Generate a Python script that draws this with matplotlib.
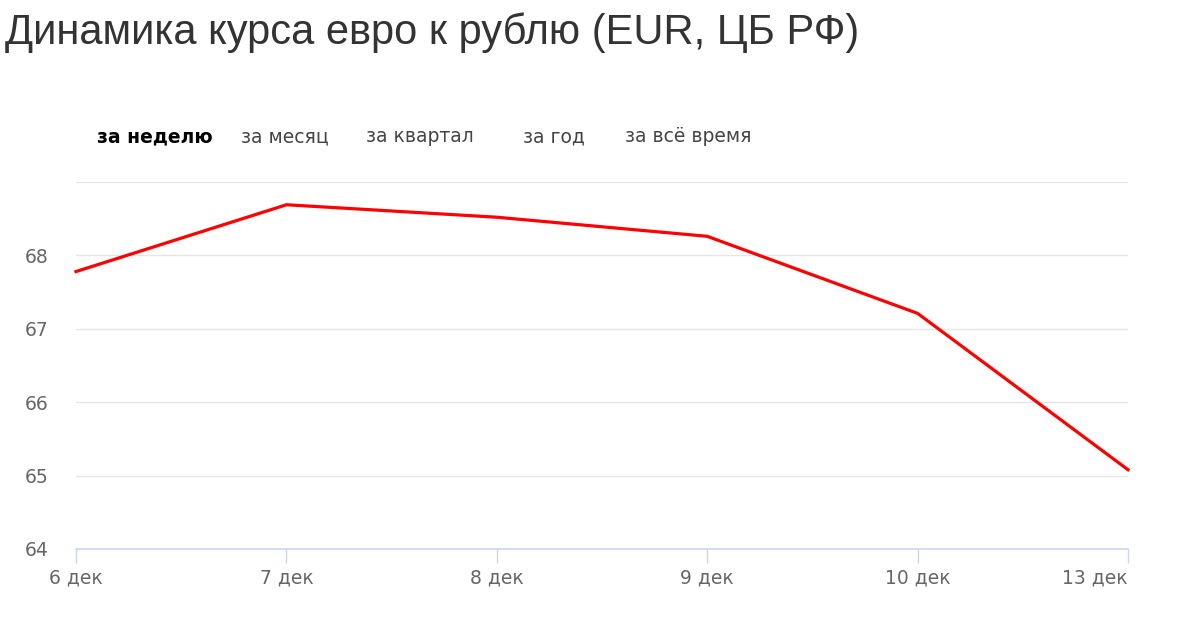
import matplotlib
matplotlib.use("Agg")
import matplotlib.pyplot as plt

# данные: курс евро ЦБ РФ за неделю
dates = ["6 дек", "7 дек", "8 дек", "9 дек", "10 дек", "13 дек"]
rates = [67.78, 68.69, 68.52, 68.26, 67.21, 65.08]
y_ticks = [64, 65, 66, 67, 68, 69]
y_labels = ["64", "65", "66", "67", "68", ""]
tabs = ["за неделю", "за месяц", "за квартал", "за год", "за всё время"]
tab_x = [97, 241, 366, 523, 625]

fig = plt.figure(figsize=(12, 6.28), dpi=100)
ax = fig.add_axes([76 / 1200, 79 / 628, (1128 - 76) / 1200, (549 - 182) / 628])

x = list(range(len(dates)))
ax.plot(x, rates, color="#ff0000", lw=2.3, solid_joinstyle="miter", clip_on=False, zorder=3)

ax.set_xlim(0, len(dates) - 1)
ax.set_ylim(64, 69)
ax.set_yticks(y_ticks)
ax.set_yticklabels(y_labels, fontsize=13.5, color="#666666", family="DejaVu Sans")
ax.set_xticks(x)
ax.set_xticklabels(dates, fontsize=13.5, color="#666666", family="DejaVu Sans")
xl = ax.get_xticklabels()
xl[-1].set_ha("right")
ax.tick_params(axis="y", length=0, pad=20)
ax.tick_params(axis="x", length=10, width=1, color="#ccd6eb", pad=4)

ax.grid(axis="y", color="#e6e6e6", lw=1)
ax.set_axisbelow(True)
for s in ["top", "right", "left"]:
    ax.spines[s].set_visible(False)
ax.spines["bottom"].set_color("#ccd6eb")
ax.spines["bottom"].set_linewidth(1.2)

fig.text(5 / 1200, 1 - 44 / 628, "Динамика курса евро к рублю (EUR, ЦБ РФ)",
         fontsize=30, color="#333333", family="Liberation Sans", va="baseline")

for i, (t, px) in enumerate(zip(tabs, tab_x)):
    fig.text(px / 1200, 1 - 137 / 628, t, fontsize=13.5, va="center",
             family="DejaVu Sans",
             color="#000000" if i == 0 else "#444444",
             weight="bold" if i == 0 else "normal")

fig.savefig("out.png", dpi=100, facecolor="white")
